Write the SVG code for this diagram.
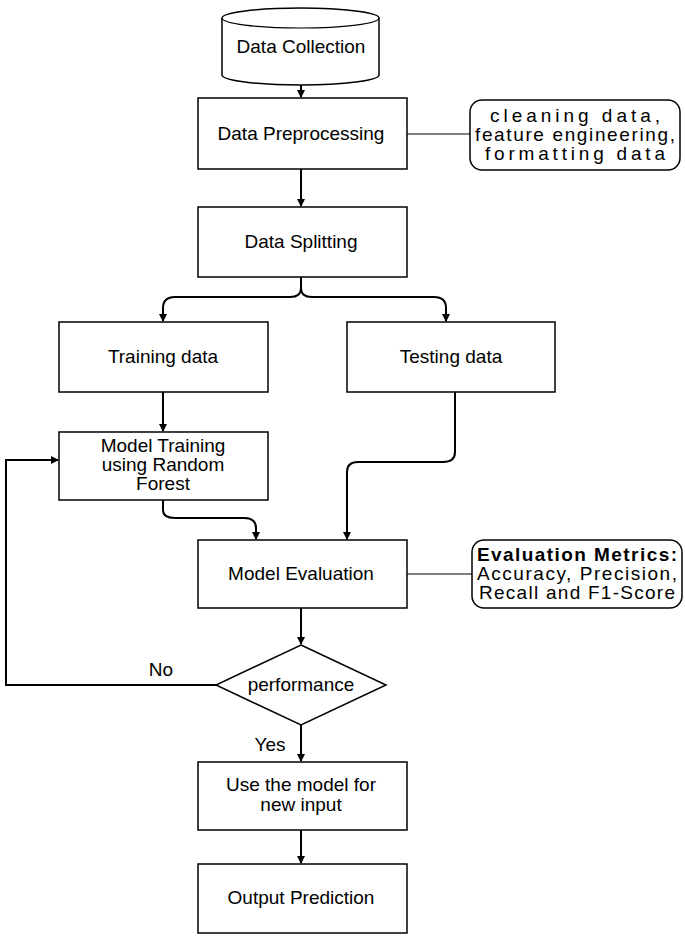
<svg xmlns="http://www.w3.org/2000/svg" width="685" height="936" viewBox="0 0 685 936">
<style>
.b{fill:#fff;stroke:#000;stroke-width:1.5}
.t{font-family:"Liberation Sans",Arial,sans-serif;font-size:19px;text-anchor:middle;fill:#000}
.c{fill:none;stroke:#000;stroke-width:2}
.l{fill:none;stroke:#000;stroke-width:1.2}
</style>
<defs><marker id="a" markerWidth="8" markerHeight="8" refX="7" refY="4" orient="auto" markerUnits="userSpaceOnUse"><path d="M0,0L8,4L0,8z" fill="#000"/></marker></defs>
<rect width="685" height="936" fill="#fff"/>
<g id="connectors">
<path class="c" d="M301,85V97" marker-end="url(#a)"/>
<path class="c" d="M301,169V206" marker-end="url(#a)"/>
<path class="c" d="M301,277V288Q301,297 290,297H175Q163,297 163,308V321" marker-end="url(#a)"/>
<path class="c" d="M301,288Q301,297 312,297H434Q446,297 446,308V321" marker-end="url(#a)"/>
<path class="c" d="M163,392V431" marker-end="url(#a)"/>
<path class="c" d="M455,392V452Q455,462 443,462H358Q347,462 347,472V539" marker-end="url(#a)"/>
<path class="c" d="M163,500V510Q163,518 175,518H244Q256,518 256,528V539" marker-end="url(#a)"/>
<path class="c" d="M301,608V644" marker-end="url(#a)"/>
<path class="c" d="M216,685H6V460H58" marker-end="url(#a)"/>
<path class="c" d="M301,725V761" marker-end="url(#a)"/>
<path class="c" d="M301,830V863" marker-end="url(#a)"/>
<path class="l" d="M407,134H470"/>
<path class="l" d="M407,574H472"/>
</g>
<g id="n1"><path class="b" d="M222,18A78.5,10 0 0 1 379,18V75A78.5,10 0 0 1 222,75Z"/><path class="l" d="M222,18A78.5,10 0 0 0 379,18"/><text class="t" x="301" y="53">Data Collection</text></g>
<g id="n2"><rect class="b" x="198" y="98" width="209" height="71"/><text class="t" x="301" y="140">Data Preprocessing</text></g>
<g id="n3"><rect class="b" x="470" y="100" width="210" height="70" rx="12"/><text class="t" x="575" y="122" textLength="170">cleaning data,</text><text class="t" x="575" y="141" textLength="200">feature engineering,</text><text class="t" x="575" y="160" textLength="180">formatting data</text></g>
<g id="n4"><rect class="b" x="198" y="207" width="209" height="70"/><text class="t" x="301" y="248">Data Splitting</text></g>
<g id="n5"><rect class="b" x="59" y="322" width="209" height="70"/><text class="t" x="163" y="363">Training data</text></g>
<g id="n6"><rect class="b" x="347" y="322" width="208" height="70"/><text class="t" x="451" y="363">Testing data</text></g>
<g id="n7"><rect class="b" x="59" y="432" width="209" height="68"/><text class="t" x="163" y="452">Model Training</text><text class="t" x="163" y="471">using Random</text><text class="t" x="163" y="490">Forest</text></g>
<g id="n8"><rect class="b" x="198" y="540" width="209" height="68"/><text class="t" x="301" y="580">Model Evaluation</text></g>
<g id="n9"><rect class="b" x="472" y="540" width="210" height="68" rx="12"/><text class="t" x="577" y="561" font-weight="bold" textLength="200">Evaluation Metrics:</text><text class="t" x="577" y="580" textLength="200">Accuracy, Precision,</text><text class="t" x="577" y="599" textLength="196">Recall and F1-Score</text></g>
<g id="n10"><path class="b" d="M301,645L386,685L301,725L216,685Z"/><text class="t" x="301" y="691">performance</text></g>
<g id="n11"><rect class="b" x="198" y="762" width="209" height="68"/><text class="t" x="301" y="791">Use the model for</text><text class="t" x="301" y="811">new input</text></g>
<g id="n12"><rect class="b" x="198" y="864" width="209" height="69"/><text class="t" x="301" y="904">Output Prediction</text></g>
<text class="t" x="161" y="676">No</text>
<text class="t" x="270" y="751">Yes</text>
</svg>
